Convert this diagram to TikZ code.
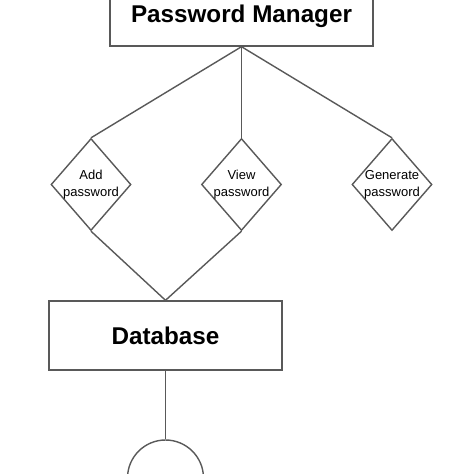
\documentclass[tikz,border=0pt]{standalone}
\usepackage{fontspec}
\setmainfont{Liberation Sans}
\usetikzlibrary{shapes.geometric}
\begin{document}
\begin{tikzpicture}[x=0.02cm,y=-0.02cm,
		box/.style={draw=black!65,line width=0.8pt,rectangle,minimum width=#1,minimum height=1.38cm,font=\fontsize{13.8pt}{16pt}\selectfont\bfseries},
		choice/.style={draw=black!65,line width=0.8pt,diamond,aspect=0.87,inner sep=-1pt,minimum width=1.6cm,minimum height=1.84cm,align=center,font=\fontsize{7.4pt}{9.5pt}\selectfont},
		link/.style={draw=black!65,line width=0.8pt}]
		\clip (0,0) rectangle (474,474);
		\node[box=5.26cm,minimum height=1.2cm] (pm) at (241.5,16) {Password Manager};
		\node[choice] (add) at (91,184.5) {Add\\password};
		\node[choice] (view) at (241.5,184.5) {View\\password};
		\node[choice] (gen) at (392,184.5) {Generate\\password};
		\node[box=4.66cm] (db) at (165.5,335.5) {Database};
		\node[draw=black!65,line width=0.8pt,circle,minimum size=1.52cm] (store) at (165.5,478) {};
		\draw[link] (pm.south) -- (add.north);
		\draw[link] (pm.south) -- (view.north);
		\draw[link] (pm.south) -- (gen.north);
		\draw[link] (add.south) -- (db.north);
		\draw[link] (view.south) -- (db.north);
		\draw[link] (db.south) -- (store.north);
	\end{tikzpicture}
\end{document}
